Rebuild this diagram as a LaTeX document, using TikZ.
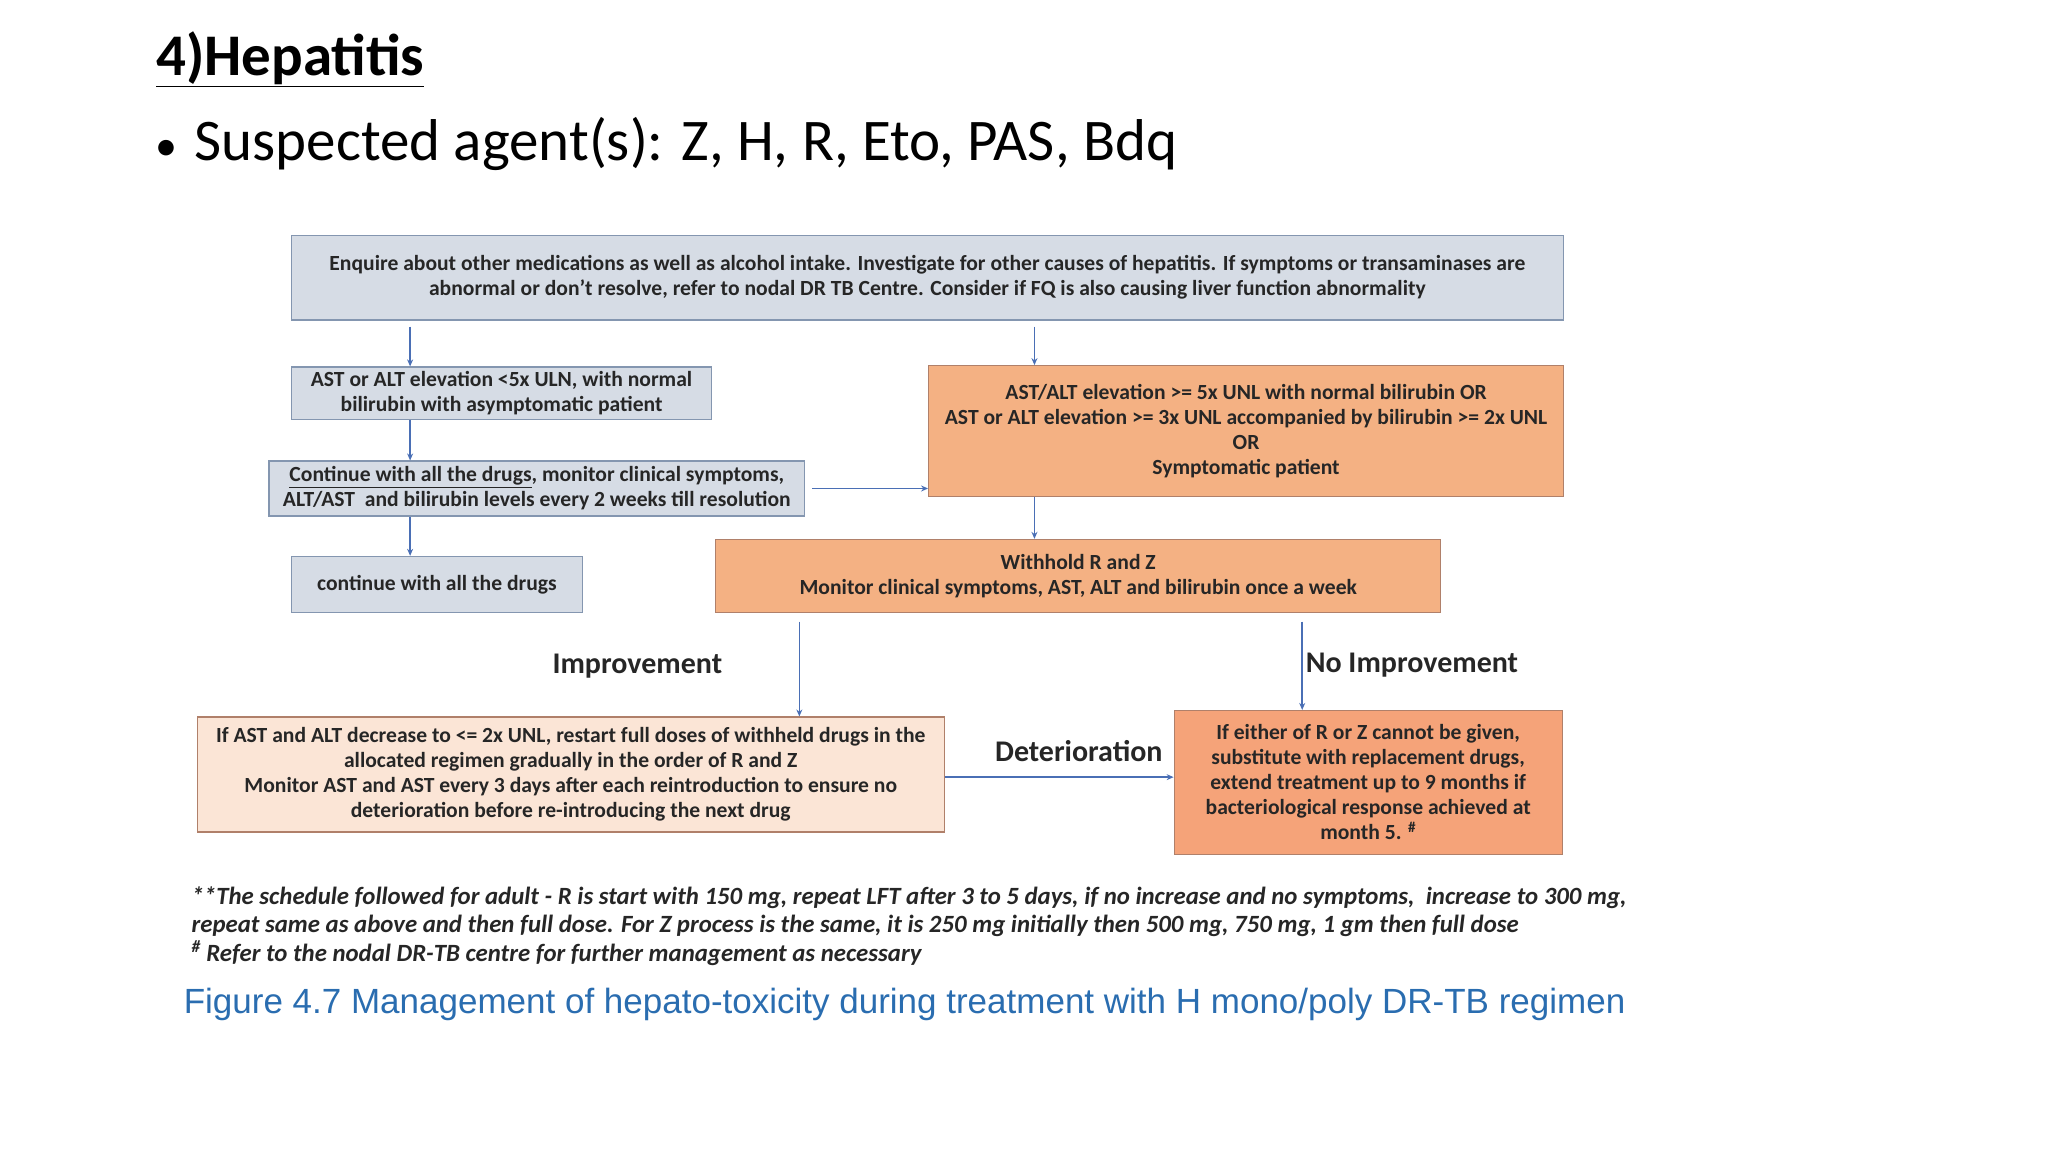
\documentclass[tikz,border=0pt]{standalone}
\usepackage{fontspec}
\usetikzlibrary{arrows.meta}
\setmainfont{Carlito}
\newfontfamily\capfont{Liberation Sans}
\definecolor{gfill}{HTML}{D6DCE5}
\definecolor{gline}{HTML}{8496B0}
\definecolor{ofill}{HTML}{F4B183}
\definecolor{oline}{HTML}{B0806A}
\definecolor{pfill}{HTML}{FBE5D6}
\definecolor{arr}{HTML}{4A6FB5}
\definecolor{capc}{HTML}{2A6DB0}
\begin{document}
\begin{tikzpicture}[x=1.306pt,y=-1.306pt,
 box/.style={draw,line width=1.2pt,align=center,inner sep=0pt,font=\fontsize{21.6}{25}\selectfont\bfseries,text=black!85},
 gbox/.style={box,fill=gfill,draw=gline},
 obox/.style={box,fill=ofill,draw=oline},
 pbox/.style={box,fill=pfill,draw=oline},
 ar/.style={draw=arr,line width=1.6pt,-{Stealth[length=7pt,width=6pt]}},
 lab/.style={font=\fontsize{30}{34}\selectfont\bfseries,text=black!85}]
\useasboundingbox (0,0) rectangle (1568,882);
\newcommand\bx[6]{\node[#1,minimum width={(#4-#2)*1.306pt},minimum height={(#5-#3)*1.306pt}] (#6) at ({(#2+#4)/2},{(#3+#5)/2})}
\node[anchor=west,font=\fontsize{59}{66}\selectfont\bfseries] (t) at (117,45) {\underline{4)Hepatitis}};
\node[anchor=west,font=\fontsize{59}{66}\selectfont] (b) at (116,110) {{\fontsize{44}{50}\selectfont•}\hspace{0.3em}Suspected agent(s): Z, H, R, Eto, PAS, Bdq};
\bx{gbox}{223}{180}{1197}{245}{b1} {Enquire about other medications as well as alcohol intake. Investigate for other causes of hepatitis. If symptoms or transaminases are\\abnormal or don’t resolve, refer to nodal DR TB Centre. Consider if FQ is also causing liver function abnormality};
\bx{gbox}{223}{281}{545}{321}{b2} {AST or ALT elevation <5x ULN, with normal\\bilirubin with asymptomatic patient};
\bx{gbox}{206}{353}{616}{395}{b3} {\underline{Continue with all the drugs}, monitor clinical symptoms,\\ALT/AST\ \ and bilirubin levels every 2 weeks till resolution};
\bx{gbox}{223}{426}{446}{469}{b4} {continue with all the drugs};
\bx{obox}{711}{280}{1197}{380}{b5} {AST/ALT elevation >= 5x UNL with normal bilirubin OR\\AST or ALT elevation >= 3x UNL accompanied by bilirubin >= 2x UNL\\OR\\Symptomatic patient};
\bx{obox}{548}{413}{1103}{469}{b6} {Withhold R and Z\\Monitor clinical symptoms, AST, ALT and bilirubin once a week};
\bx{pbox}{151}{549}{723}{637}{b7} {If AST and ALT decrease to <= 2x UNL, restart full doses of withheld drugs in the\\allocated regimen gradually in the order of R and Z\\Monitor AST and AST every 3 days after each reintroduction to ensure no\\deterioration before re-introducing the next drug};
\bx{box,fill=ofill!92!red,draw=oline}{899}{544}{1196}{654}{b8} {If either of R or Z cannot be given,\\substitute with replacement drugs,\\extend treatment up to 9 months if\\bacteriological response achieved at\\month 5. \textsuperscript{\#}};
\coordinate (a1) at (314,250); \coordinate (a2) at (792,250);
\coordinate (a3) at (622,374); \coordinate (a4) at (612,476); \coordinate (a5) at (997,476);
\draw[ar] (a1) -- (a1 |- b2.north);
\draw[ar] (a2) -- (a2 |- b5.north);
\draw[ar] (b2.south -| a1) -- (a1 |- b3.north);
\draw[ar] (b3.south -| a1) -- (a1 |- b4.north);
\draw[ar] (a3) -- (a3 -| b5.west);
\draw[ar] (b5.south -| a2) -- (a2 |- b6.north);
\draw[ar] (a4) -- (a4 |- b7.north);
\draw[ar] (a5) -- (a5 |- b8.north);
\draw[ar] (b7.east |- 0,595) -- (b8.west |- 0,595);
\node[lab] (l1) at (488,510) {Improvement};
\node[lab] (l2) at (1081,509) {No Improvement};
\node[lab] (l3) at (826,575) {Deterioration};
\node[anchor=north west,align=left,font=\fontsize{24.8}{28.7}\selectfont\bfseries\itshape,text=black!85] (f) at (144,676) {**The schedule followed for adult - R is start with 150 mg, repeat LFT after 3 to 5 days, if no increase and no symptoms,\ \ increase to 300 mg,\\repeat same as above and then full dose. For Z process is the same, it is 250 mg initially then 500 mg, 750 mg, 1 gm then full dose\\\textsuperscript{\#} Refer to the nodal DR-TB centre for further management as necessary};
\node[anchor=west,font=\capfont\fontsize{35}{40}\selectfont,text=capc] (c) at (138,769) {Figure 4.7 Management of hepato-toxicity during treatment with H mono/poly DR-TB regimen};
\end{tikzpicture}
\end{document}
